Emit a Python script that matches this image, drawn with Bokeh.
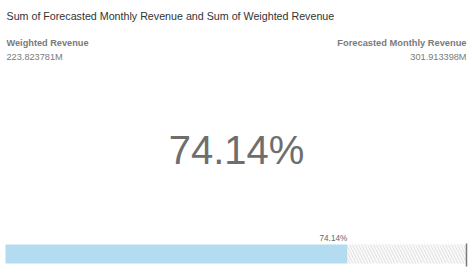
from bokeh.plotting import figure
from bokeh.models import Range1d, Label
from bokeh.embed import file_html
from bokeh.resources import INLINE

# KPI values (millions)
weighted_label = "Weighted Revenue"
forecast_label = "Forecasted Monthly Revenue"
weighted_value = [223.823781]
forecast_value = [301.913398]
title_text = "Sum of Forecasted Monthly Revenue and Sum of Weighted Revenue"

pct = weighted_value[0] / forecast_value[0] * 100.0
pct_text = f"{pct:.2f}%"

W, H = 474, 270
bar_left_px, bar_right_px = 5, 466
scale = (bar_right_px - bar_left_px) / 100.0
x_start = -bar_left_px / scale
x_end = x_start + W / scale

p = figure(width=W, height=H, output_backend="svg", toolbar_location=None,
           x_range=Range1d(x_start, x_end), y_range=Range1d(H, 0),
           min_border=0, min_border_left=0, min_border_right=0,
           min_border_top=0, min_border_bottom=0)
p.axis.visible = False
p.grid.visible = False
p.outline_line_color = None
p.background_fill_color = "white"
p.border_fill_color = "white"

FONT = "Liberation Sans"

def add_text(x, y, text, size, color, align="left", bold=False, baseline="middle"):
    p.add_layout(Label(x=x, y=y, x_units="screen", y_units="data", text=text,
                       text_font=FONT, text_font_size=f"{size}px",
                       text_color=color, text_align=align,
                       text_baseline=baseline,
                       text_font_style="bold" if bold else "normal"))

# header
add_text(6, 15, title_text, 10.7, "#333333")
add_text(6, 42, weighted_label, 9.2, "#7a7a7a", bold=True)
add_text(6, 56, f"{weighted_value[0]:.6f}M", 9.2, "#7a7a7a")
add_text(466, 42, forecast_label, 9.3, "#7a7a7a", align="right", bold=True)
add_text(466, 56, f"{forecast_value[0]:.6f}M", 9.2, "#7a7a7a", align="right")

# big percentage
add_text(236, 149, pct_text, 40, "#6e6e6e", align="center")

# progress bar: remainder (hatched) and achieved (blue)
bar_y, bar_h = 253.5, 19
p.hbar(y=[bar_y], left=[pct], right=[100], height=bar_h,
       fill_color="#f9f9f9", line_color=None,
       hatch_pattern="\\", hatch_color="#e2e2e2", hatch_scale=6, hatch_weight=1)
p.hbar(y=[bar_y], left=[0], right=[pct], height=bar_h,
       fill_color="#b3dcf0", line_color=None)

# target marker at 100%
p.segment(x0=[100], x1=[100], y0=[243], y1=[266], line_color="#7a7a7a", line_width=1.5)

# value label above bar end
p.text(x=[pct], y=[237.5], text=[pct_text], text_font={"value": FONT},
       text_font_size="8.2px", text_color="#666666", text_align="right",
       text_baseline="middle")

open("out.html", "w").write(file_html(p, INLINE))
